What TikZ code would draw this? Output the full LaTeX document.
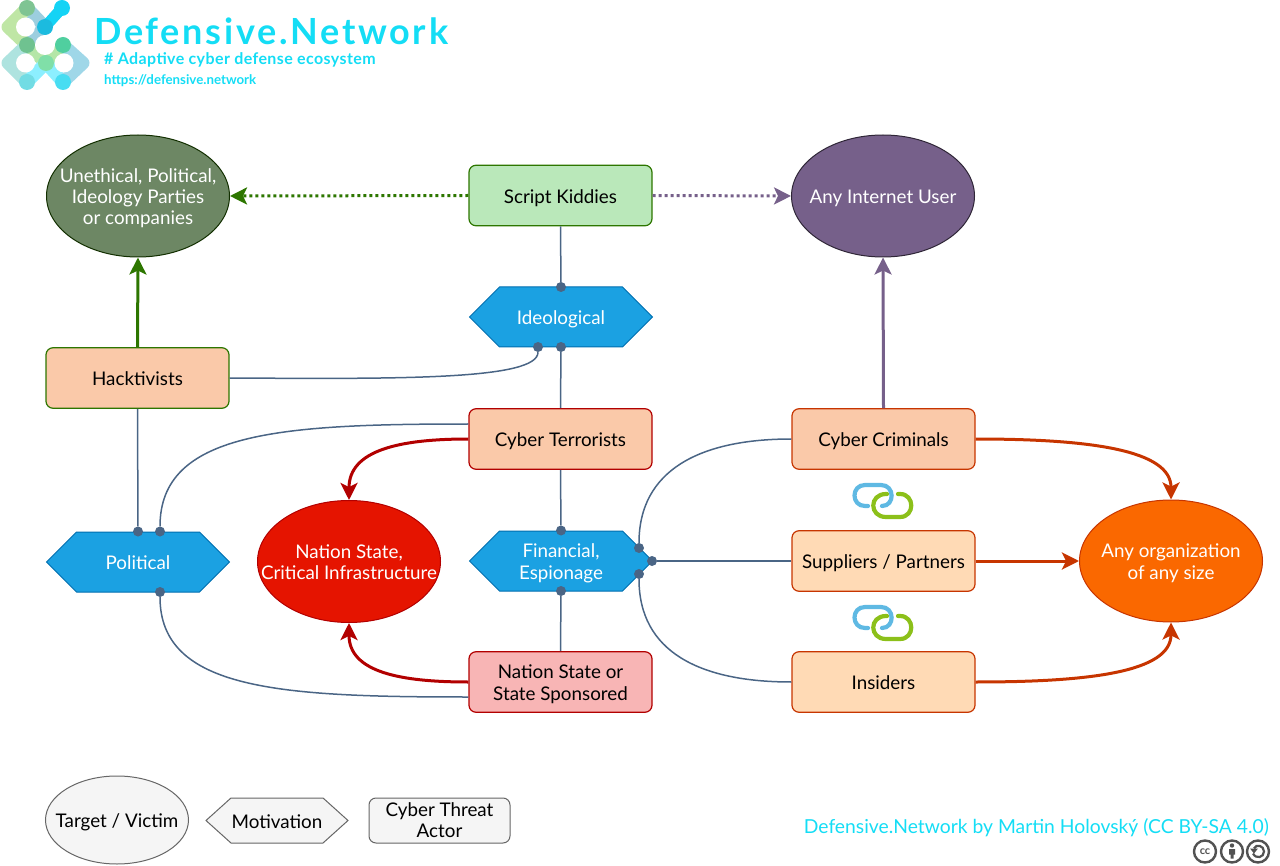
\documentclass[tikz,border=0pt]{standalone}
\usepackage{fontspec}
\setmainfont{Lato}
\usetikzlibrary{shapes.geometric,shapes.symbols,arrows.meta}
\definecolor{lineblue}{HTML}{4A6585}
\definecolor{cgreen}{HTML}{2D7600}
\definecolor{cpurple}{HTML}{76608A}
\definecolor{cred}{HTML}{B20000}
\definecolor{corange}{HTML}{C73500}
\definecolor{brand}{HTML}{14DDF5}
\definecolor{HexFill}{HTML}{1BA1E2}
\definecolor{HexLine}{HTML}{006EAF}
\tikzset{
 txt/.style={font=\fontsize{18.8}{21.3}\selectfont,align=center,text=black,execute at begin node={\leavevmode\vrule height 20.5pt width 0pt\relax},execute at end node={\vrule height 0pt depth 5pt width 0pt\relax}},
 mline/.style={txt,inner sep=0pt,yshift=-3.2pt},
 ell/.style={ellipse,draw,line width=1pt,minimum width=183,minimum height=122,inner sep=0pt},
 etxt/.style={txt,text=white,inner sep=0pt},
 box/.style={rectangle,rounded corners=7pt,draw,line width=1.2pt,minimum width=183,minimum height=60.5,inner sep=0pt,txt},
 hexm/.style={signal,signal to=east and west,signal pointer angle=90,draw=HexLine,fill=HexFill,line width=1pt,inner sep=0pt,minimum width=183,minimum height=60,txt,text=white},
 dotn/.style={circle,fill=lineblue,minimum size=10,inner sep=0pt},
 link/.style={draw=lineblue,line width=1.5pt},
 arr/.style={line width=3pt,-{Stealth[length=17pt,width=17pt,inset=4pt]}},
 dotarr/.style={arr,dash pattern=on 3pt off 3pt},
 legend/.style={draw=black!60,fill=black!4,line width=1pt,inner sep=0pt},
 brandtxt/.style={text=brand,anchor=west,inner sep=0pt},
 ccicon/.style={circle,draw=black!68,line width=2.4pt,minimum size=22,inner sep=0pt},
}
\begin{document}
\begin{tikzpicture}[x=1pt,y=-1pt]
\useasboundingbox (0,0) rectangle (1280,866);
% logo
\begin{scope}[line cap=round,line join=round,line width=13pt]
 \draw[color={rgb,255:red,156;green,206;blue,223}] (27,8)--(45,27);
 \draw[color={rgb,255:red,156;green,206;blue,223}] (45,27)--(27,45);
 \draw[color={rgb,255:red,20;green,211;blue,245},line width=11pt] (45,27)--(62,8);
 \draw[color={rgb,255:red,191;green,230;blue,165}] (27,8)--(8,27)--(27,45);
 \draw[color={rgb,255:red,181;green,230;blue,168}] (27,45)--(46,63)--(63,45);
 \draw[color={rgb,255:red,174;green,227;blue,223}] (27,45)--(8,63)--(27,82);
 \draw[color={rgb,255:red,140;green,239;blue,255}] (27,82)--(46,63)--(63,82);
 \draw[color={rgb,255:red,159;green,215;blue,232}] (63,45)--(83,63)--(63,82);
 \fill[color={rgb,255:red,127;green,196;blue,147}] (27,8) circle (8);
 \fill[color={rgb,255:red,20;green,211;blue,245}] (62,8) circle (8);
 \fill[color={rgb,255:red,28;green,187;blue,223}] (45,27) circle (8);
 \fill[color={rgb,255:red,111;green,194;blue,144}] (27,45) circle (8);
 \fill[color={rgb,255:red,80;green,207;blue,159}] (63,45) circle (8);
 \fill[color={rgb,255:red,128;green,223;blue,168}] (46,63) circle (8);
 \fill[color={rgb,255:red,114;green,220;blue,228}] (27,82) circle (8);
 \fill[color={rgb,255:red,72;green,221;blue,242}] (63,82) circle (8);
 \fill[white] (25.5,27) circle (9.5) (45,45) circle (10) (25.5,63) circle (9.5) (64,63) circle (9.5);
\end{scope}
\node[brandtxt,font={\fontsize{36}{40}\fontspec{Lato}[LetterSpace=7.5]\bfseries}] (title) at (94,31) {Defensive.Network};
\node[brandtxt,font={\fontsize{16}{18}\fontspec{Lato}[LetterSpace=2.5]\bfseries}] (tag) at (104,60) {\# Adaptive cyber defense ecosystem};
\node[brandtxt,font=\fontsize{13.3}{15}\bfseries\selectfont] (url) at (104,81) {https://defensive.network};
% ellipses
\node[ell,draw=black!60!cgreen,fill={rgb,255:red,109;green,135;blue,100},label={[mline,text=white]center:{Unethical, Political,\\Ideology Parties\\or companies}}] (uneth) at (138,196) {};
\node[ell,draw=black!60!cpurple,fill=cpurple,label={[etxt]center:{Any Internet User}}] (user) at (883,196) {};
\node[ell,draw=cred,fill={rgb,255:red,229;green,20;blue,0},label={[mline,text=white]center:{Nation State,\\Critical Infrastructure}}] (state) at (349,561.5) {};
\node[ell,draw=corange,fill={rgb,255:red,250;green,104;blue,0},label={[mline,text=white]center:{Any organization\\of any size}}] (org) at (1171,561) {};
% boxes
\node[box,draw=cgreen,fill={rgb,255:red,186;green,232;blue,186}] (kid) at (560.5,195.5) {Script Kiddies};
\node[box,draw=cgreen,fill={rgb,255:red,250;green,201;blue,169}] (hack) at (137.5,378) {Hacktivists};
\node[box,draw=cred,fill={rgb,255:red,250;green,201;blue,169}] (terr) at (560.5,439) {Cyber Terrorists};
\node[box,draw=cred,fill={rgb,255:red,248;green,181;blue,181},label={[mline]center:{Nation State or\\State Sponsored}}] (nss) at (560.5,682) {};
\node[box,draw=corange,fill={rgb,255:red,250;green,201;blue,169}] (crim) at (883.5,439) {Cyber Criminals};
\node[box,draw=corange,fill={rgb,255:red,255;green,218;blue,181}] (supp) at (883.5,561) {Suppliers / Partners};
\node[box,draw=corange,fill={rgb,255:red,255;green,218;blue,181}] (ins) at (883.5,682) {Insiders};
\node[hexm] (ideo) at (561,317) {Ideological};
\node[hexm] (pol) at (138,562) {Political};
\node[hexm,label={[mline,text=white]center:{Financial,\\Espionage}}] (fin) at (561,561) {};
% dots
\node[dotn] (d1) at (561,287) {};
\node[dotn] (d2) at (561,347) {};
\node[dotn] (d3) at (538,347) {};
\node[dotn] (d4) at (138,531.5) {};
\node[dotn] (d5) at (160,531.5) {};
\node[dotn] (d6) at (160,592) {};
\node[dotn] (d7) at (561,530.5) {};
\node[dotn] (d8) at (561,591) {};
\node[dotn] (d9) at (639,548) {};
\node[dotn] (d10) at (652,561) {};
\node[dotn] (d11) at (639,574) {};
% connectors
\draw[link] (kid.south) -- (d1);
\draw[link] (d2) -- (terr.north);
\draw[link] (hack.east) .. controls (400,379) and (538,380) .. (d3);
\draw[link] (hack.south) -- (d4);
\draw[link] ([yshift=15pt]terr.west) .. controls (280,424) and (160,432) .. (d5);
\draw[link] (terr.south) -- (d7);
\draw[link] (nss.north) -- (d8);
\draw[link] ([yshift=-15pt]nss.west) .. controls (280,697) and (160,690) .. (d6);
\draw[link] (crim.west) .. controls (700,439) and (639,470) .. (d9);
\draw[link] (supp.west) -- (d10);
\draw[link] (ins.west) .. controls (700,682) and (639,652) .. (d11);
% arrows
\draw[dotarr,cgreen] (kid.west) -- (uneth.east);
\draw[dotarr,cpurple] (kid.east) -- (user.west);
\draw[arr,cgreen] (hack.north) -- (uneth.south);
\draw[arr,cpurple] (crim.north) -- (user.south);
\draw[arr,cred] (terr.west) .. controls (400,439) and (349,450) .. (state.north);
\draw[arr,cred] (nss.west) .. controls (400,682) and (349,672) .. (state.south);
\draw[arr,corange] (crim.east) .. controls (1090,439) and (1171,450) .. (org.north);
\draw[arr,corange] (supp.east) -- (org.west);
\draw[arr,corange] (ins.east) .. controls (1090,682) and (1171,672) .. (org.south);
% chain icons
\foreach \cy in {499,621}{
 \begin{scope}[shift={(883,\cy)},line width=4.2pt,line cap=round]
  \draw[color={rgb,255:red,95;green,185;blue,227}] (-15,7) -- (-18,7) .. controls (-32,7) and (-32,-14) .. (-18,-14) -- (-2,-14) .. controls (12,-14) and (12,7) .. (-1,7);
  \draw[color={rgb,255:red,140;green,192;blue,26}] (4,-5) -- (3,-5) .. controls (-14,-5) and (-14,18) .. (3,18) -- (17,18) .. controls (32,18) and (32,-5) .. (17,-5) -- (15,-5);
 \end{scope}
}
% legend
\node[legend,ellipse,minimum width=143,minimum height=88,label={[txt,inner sep=0pt]center:{Target / Victim}}] (lv) at (117,820) {};
\node[legend,txt,signal,signal to=east and west,signal pointer angle=84,minimum width=142,minimum height=45] (lm) at (277,820.5) {Motivation};
\node[legend,rectangle,rounded corners=7pt,minimum width=141,minimum height=45,label={[mline,yshift=1pt]center:{Cyber Threat\\Actor}}] (la) at (439.5,820.5) {};
% footer
\node[text=brand,anchor=east,inner sep=0pt,font=\fontsize{19.3}{22}\selectfont] (foot) at (1269,828) {Defensive.Network by Martin Holovský (CC BY-SA 4.0)};
\node[ccicon,text=black!68,font=\fontsize{11}{11}\bfseries\selectfont] (cc1) at (1205,851.5) {cc};
\node[ccicon] (cc2) at (1232,851.5) {};
\node[ccicon] (cc3) at (1258,851.5) {};
\fill[black!68] (1232,845.5) circle (2.2);
\fill[black!68] (1229,849) rectangle (1235,854.5) (1230.5,854.5) rectangle (1233.5,858.5);
\draw[black!68,line width=2.2pt] (1254,848.5) .. controls (1256,843.5) and (1264,845.5) .. (1264,851.5) .. controls (1264,857.5) and (1256,859.5) .. (1253,853.5);
\fill[black!68] (1250,848.5) -- (1258,848.5) -- (1254,853.5) -- cycle;
\end{tikzpicture}
\end{document}
